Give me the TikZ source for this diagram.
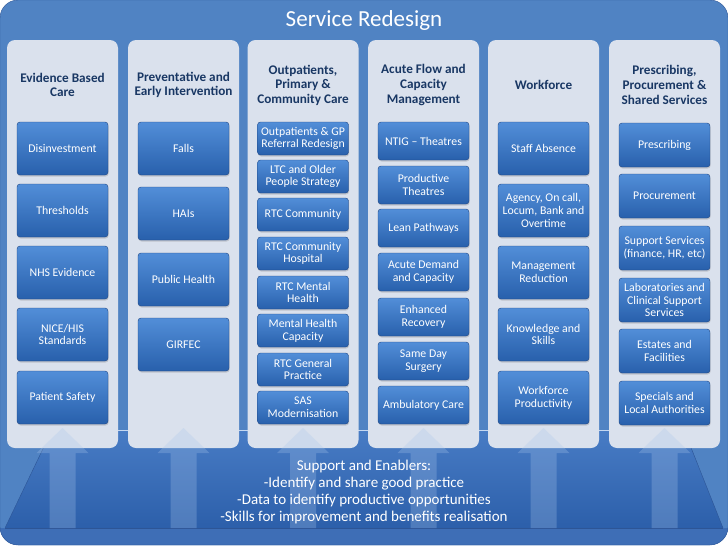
\documentclass[tikz,border=0pt]{standalone}
\usepackage{fontspec}
\setmainfont{Carlito}
\usepackage{xcolor}
\usepackage{tikz}
\usetikzlibrary{shadows}
\usetikzlibrary{positioning}

\definecolor{outerblue}{RGB}{80,131,195}
\definecolor{edgeblue}{RGB}{45,85,150}
\definecolor{trapTop}{RGB}{72,124,197}
\definecolor{trapBot}{RGB}{44,95,170}
\definecolor{baseblue}{RGB}{62,110,182}
\definecolor{panelgray}{RGB}{218,225,237}
\definecolor{headnavy}{RGB}{25,55,100}
\definecolor{boxTop}{RGB}{82,142,216}
\definecolor{boxBot}{RGB}{40,96,172}
\definecolor{boxEdge}{RGB}{30,70,132}
\definecolor{flowblue}{RGB}{170,198,235}

\begin{document}
\begin{tikzpicture}[
        x=1pt, y=-1pt,
        panel/.style={fill=panelgray, rounded corners=8pt, minimum width=111pt,
            minimum height=408pt, inner sep=0pt},
        header/.style={text=headnavy, align=center, font=\bfseries\fontsize{13.2}{14.6}\selectfont},
        taskbox/.style={draw=boxEdge, rounded corners=3pt, top color=boxTop, bottom color=boxBot,
            text=white, align=center, minimum width=91pt, inner sep=1pt,
            font=\fontsize{11.8}{12.7}\selectfont,
            drop shadow={opacity=0.3, shadow xshift=0.6pt, shadow yshift=-1.5pt}},
        upflow/.style={fill=flowblue, opacity=0.28}
    ]
    \useasboundingbox (0,0) rectangle (728,546);

    %=== Column centres ===%
    \def\colA{62.5}
    \def\colB{183.5}
    \def\colC{303}
    \def\colD{423.5}
    \def\colE{543.5}
    \def\colF{664.5}

    %=== Outer frame ===%
    \fill[outerblue, rounded corners=18pt] (0,0) rectangle (728,545);
    \begin{scope}
        \clip[rounded corners=18pt] (0,0) rectangle (728,545);
        \shade[top color=trapTop, bottom color=trapBot] (52,430) -- (684,430) -- (723,528) -- (5,528) -- cycle;
        \draw[edgeblue, thin] (52,430) -- (5,528);
        \draw[edgeblue, thin] (684,430) -- (723,528);
        \fill[baseblue] (0,528) rectangle (728,546);
        \draw[edgeblue, thick] (5,528) -- (723,528);
        \draw[flowblue!70, thin] (52,430) -- (684,430);
    \end{scope}
    \draw[edgeblue, rounded corners=18pt, thin] (0,0) rectangle (728,545);

    \node[text=white, font=\fontsize{23}{26}\selectfont] (title) at (364,20) {Service Redesign};

    %=== Panels and headings ===%
    \node[panel] (P1) at (\colA,244) {};
    \node[panel] (P2) at (\colB,244) {};
    \node[panel] (P3) at (\colC,244) {};
    \node[panel] (P4) at (\colD,244) {};
    \node[panel] (P5) at (\colE,244) {};
    \node[panel] (P6) at (\colF,244) {};

    \node[header] (H1) at (\colA,85) {Evidence Based\\Care};
    \node[header] (H2) at (\colB,85) {Preventative and\\Early Intervention};
    \node[header] (H3) at (\colC,85) {Outpatients,\\Primary \&\\Community Care};
    \node[header] (H4) at (\colD,85) {Acute Flow and\\Capacity\\Management};
    \node[header] (H5) at (\colE,85) {Workforce};
    \node[header] (H6) at (\colF,85) {Prescribing,\\Procurement \&\\Shared Services};

    %=== Upward arrows ===%
    \foreach \cx in {\colA,\colB,\colC,\colD,\colE,\colF}
        \fill[upflow] (\cx-13,528) -- (\cx-13,453) -- (\cx-26,453) -- (\cx,428)
            -- (\cx+26,453) -- (\cx+13,453) -- (\cx+13,528) -- cycle;

    %=== Macro to place work streams ===%
    % #1 = node name
    % #2 = column centre
    % #3 = top of the box
    % #4 = box height
    % #5 = text
    \newcommand{\workstream}[5]{
        \node[taskbox, minimum height=#4pt] (#1) at (#2,{#3+#4/2}) {#5};
    }

    %=== Evidence Based Care ===%
    \workstream{A1}{\colA}{122}{53}{Disinvestment}
    \workstream{A2}{\colA}{184}{53}{Thresholds}
    \workstream{A3}{\colA}{246}{53}{NHS Evidence}
    \workstream{A4}{\colA}{308}{53}{NICE/HIS\\Standards}
    \workstream{A5}{\colA}{371}{53}{Patient Safety}

    %=== Preventative and Early Intervention ===%
    \workstream{B1}{\colB}{122}{53}{Falls}
    \workstream{B2}{\colB}{187}{53}{HAIs}
    \workstream{B3}{\colB}{253}{53}{Public Health}
    \workstream{B4}{\colB}{318}{53}{GIRFEC}

    %=== Outpatients, Primary & Community Care ===%
    \workstream{C1}{\colC}{122}{33}{Outpatients \& GP\\Referral Redesign}
    \workstream{C2}{\colC}{160}{33}{LTC and Older\\People Strategy}
    \workstream{C3}{\colC}{198}{33}{RTC Community}
    \workstream{C4}{\colC}{237}{33}{RTC Community\\Hospital}
    \workstream{C5}{\colC}{276}{33}{RTC Mental\\Health}
    \workstream{C6}{\colC}{314}{33}{Mental Health\\Capacity}
    \workstream{C7}{\colC}{353}{33}{RTC General\\Practice}
    \workstream{C8}{\colC}{391}{33}{SAS\\Modernisation}

    %=== Acute Flow and Capacity Management ===%
    \workstream{D1}{\colD}{122}{38}{NTIG -- Theatres}
    \workstream{D2}{\colD}{166}{38}{Productive\\Theatres}
    \workstream{D3}{\colD}{209}{38}{Lean Pathways}
    \workstream{D4}{\colD}{253}{38}{Acute Demand\\and Capacity}
    \workstream{D5}{\colD}{298}{38}{Enhanced\\Recovery}
    \workstream{D6}{\colD}{342}{38}{Same Day\\Surgery}
    \workstream{D7}{\colD}{386}{38}{Ambulatory Care}

    %=== Workforce ===%
    \workstream{E1}{\colE}{122}{53}{Staff Absence}
    \workstream{E2}{\colE}{184}{53}{Agency, On call,\\Locum, Bank and\\Overtime}
    \workstream{E3}{\colE}{246}{53}{Management\\Reduction}
    \workstream{E4}{\colE}{308}{53}{Knowledge and\\Skills}
    \workstream{E5}{\colE}{371}{53}{Workforce\\Productivity}

    %=== Prescribing, Procurement & Shared Services ===%
    \workstream{F1}{\colF}{123}{44}{Prescribing}
    \workstream{F2}{\colF}{174}{44}{Procurement}
    \workstream{F3}{\colF}{226}{44}{Support Services\\(finance, HR, etc)}
    \workstream{F4}{\colF}{278}{44}{Laboratories and\\Clinical Support\\Services}
    \workstream{F5}{\colF}{329}{44}{Estates and\\Facilities}
    \workstream{F6}{\colF}{381}{44}{Specials and\\Local Authorities}

    %=== Support and enablers ===%
    \node[text=white, align=center, font=\fontsize{15}{17.3}\selectfont] (enablers) at (364,492)
        {Support and Enablers:\\-Identify and share good practice\\-Data to identify productive opportunities\\-Skills for improvement and benefits realisation};

\end{tikzpicture}
\end{document}
